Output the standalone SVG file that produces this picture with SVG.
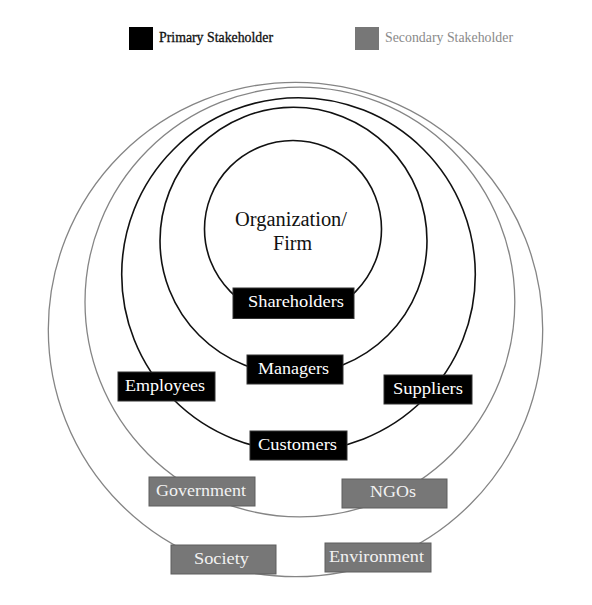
<svg xmlns="http://www.w3.org/2000/svg" width="592" height="605" viewBox="0 0 592 605">
<style>
.ring{fill:none}
.pri{stroke:#111;stroke-width:1.6}
.sec{stroke:#858585;stroke-width:1.3}
.pbox{fill:#000;stroke:#333;stroke-width:1}
.sbox{fill:#777;stroke:#5e5e5e;stroke-width:1}
.lbl{font-family:"Liberation Serif","Times New Roman",serif;font-size:17px;fill:#fff;text-anchor:middle}
.slbl{fill:#f2f2f2}
.leg{font-family:"Liberation Serif","Times New Roman",serif;font-size:14px}
.core{font-family:"Liberation Serif","Times New Roman",serif;font-size:20.5px;fill:#111;text-anchor:middle}
</style>
<rect width="592" height="605" fill="#fff"/>
<g id="legend">
  <rect x="129" y="27" width="24" height="23" fill="#000"/>
  <text class="leg" x="159" y="42" fill="#111" stroke="#111" stroke-width="0.3" textLength="114" lengthAdjust="spacingAndGlyphs">Primary Stakeholder</text>
  <rect x="355" y="27" width="24" height="23" fill="#777"/>
  <text class="leg" x="385" y="42" fill="#8a8a8a" textLength="128" lengthAdjust="spacingAndGlyphs">Secondary Stakeholder</text>
</g>
<g id="connectors">
  <circle class="ring sec" cx="295.5" cy="329.5" r="247.2"/>
  <circle class="ring sec" cx="299.9" cy="302" r="214.9"/>
  <circle class="ring pri" cx="298.5" cy="274.5" r="176.8"/>
  <circle class="ring pri" cx="293.5" cy="240.8" r="133.5"/>
  <circle class="ring pri" cx="293" cy="229" r="88.5"/>
</g>
<g id="firm">
  <text class="core" x="291" y="226" textLength="112" lengthAdjust="spacingAndGlyphs">Organization/</text>
  <text class="core" x="292.5" y="250" textLength="39" lengthAdjust="spacingAndGlyphs">Firm</text>
</g>
<g id="shareholders">
  <rect class="pbox" x="233" y="288" width="121" height="30.5"/>
  <text class="lbl" x="296" y="307" textLength="96" lengthAdjust="spacingAndGlyphs">Shareholders</text>
</g>
<g id="managers">
  <rect class="pbox" x="247" y="355" width="96" height="29"/>
  <text class="lbl" x="293.5" y="374" textLength="71" lengthAdjust="spacingAndGlyphs">Managers</text>
</g>
<g id="employees">
  <rect class="pbox" x="118" y="372" width="97" height="29"/>
  <text class="lbl" x="165" y="391" textLength="80" lengthAdjust="spacingAndGlyphs">Employees</text>
</g>
<g id="suppliers">
  <rect class="pbox" x="384" y="375" width="88" height="29"/>
  <text class="lbl" x="428" y="394" textLength="70" lengthAdjust="spacingAndGlyphs">Suppliers</text>
</g>
<g id="customers">
  <rect class="pbox" x="250" y="431" width="97" height="29"/>
  <text class="lbl" x="297.5" y="450" textLength="79" lengthAdjust="spacingAndGlyphs">Customers</text>
</g>
<g id="government">
  <rect class="sbox" x="149" y="477" width="106" height="29"/>
  <text class="lbl slbl" x="201" y="496" textLength="90" lengthAdjust="spacingAndGlyphs">Government</text>
</g>
<g id="ngos">
  <rect class="sbox" x="342" y="479" width="105" height="29"/>
  <text class="lbl slbl" x="393" y="497" textLength="46" lengthAdjust="spacingAndGlyphs">NGOs</text>
</g>
<g id="society">
  <rect class="sbox" x="171" y="545" width="105" height="29"/>
  <text class="lbl slbl" x="221.5" y="564" textLength="55" lengthAdjust="spacingAndGlyphs">Society</text>
</g>
<g id="environment">
  <rect class="sbox" x="325" y="543" width="106" height="29"/>
  <text class="lbl slbl" x="376.5" y="562" textLength="95" lengthAdjust="spacingAndGlyphs">Environment</text>
</g>
</svg>
